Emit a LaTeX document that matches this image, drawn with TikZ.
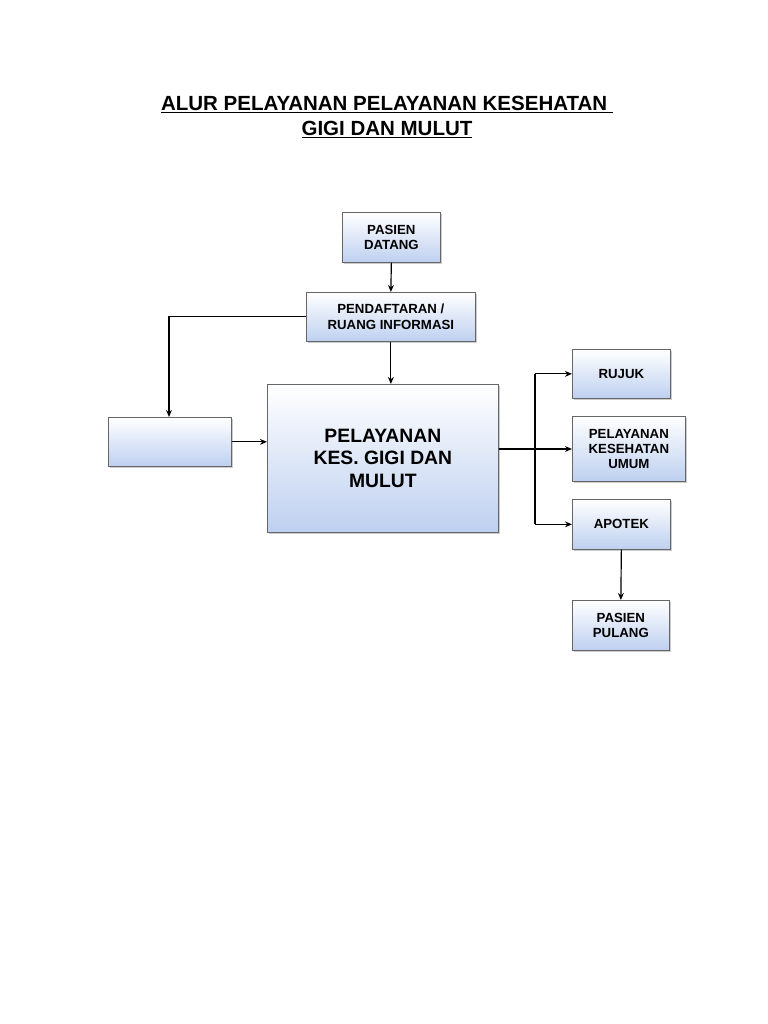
\documentclass[tikz,border=0pt]{standalone}
\usepackage{fontspec}
\setmainfont{Liberation Sans}
\usetikzlibrary{shadows,arrows.meta}
\definecolor{bfill}{RGB}{190,208,240}
\begin{document}
\begin{tikzpicture}[x=0.03cm,y=-0.03cm,
  box/.style={draw=black!60,line width=0.6pt,top color=white,bottom color=bfill,
    drop shadow={shadow xshift=1.5pt,shadow yshift=-1.5pt,opacity=0.4},
    font=\bfseries\fontsize{11.3}{13}\selectfont,align=center,anchor=north west,inner sep=0pt},
  arr/.style={-{Stealth[length=6pt,width=5pt]},line width=1pt},
  ln/.style={line width=1pt}]
\useasboundingbox (0,0) rectangle (768,1024);
\node[font=\bfseries\fontsize{17.5}{21}\selectfont,align=center] (t) at (387,117)
  {\underline{ALUR PELAYANAN PELAYANAN KESEHATAN\ }\\\underline{GIGI DAN MULUT}};
\node[box,minimum width=98*0.03cm,minimum height=50*0.03cm] (pd) at (342,212) {PASIEN\\DATANG};
\node[box,minimum width=169*0.03cm,minimum height=49*0.03cm] (pf) at (306,292) {PENDAFTARAN /\\RUANG INFORMASI};
\node[box,minimum width=123*0.03cm,minimum height=49*0.03cm] (lb) at (108,417) {};
\node[box,minimum width=231*0.03cm,minimum height=148*0.03cm,font=\bfseries\fontsize{16.5}{19.5}\selectfont] (m) at (267,384) {PELAYANAN\\KES. GIGI DAN\\MULUT};
\node[box,minimum width=98*0.03cm,minimum height=49*0.03cm] (rj) at (572,349) {RUJUK};
\node[box,minimum width=113*0.03cm,minimum height=65*0.03cm] (pu) at (572,416) {PELAYANAN\\KESEHATAN\\UMUM};
\node[box,minimum width=98*0.03cm,minimum height=50*0.03cm] (ap) at (572,499) {APOTEK};
\node[box,minimum width=97*0.03cm,minimum height=50*0.03cm] (pp) at (572,600) {PASIEN\\PULANG};
\coordinate (j) at (535,449);
\coordinate (c1) at (169,0);
\draw[arr] (pd.south) -- (pf.north);
\draw[arr] (pf.south) -- (pf.south |- m.north);
\draw[arr] (pf.west) -- (c1 |- pf.west) -- (c1 |- lb.north);
\draw[arr] (lb.east) -- (lb.east -| m.west);
\draw[ln] (m.east |- j) -- (j);
\draw[ln] (j |- rj.west) -- (j |- ap.west);
\draw[arr] (j |- rj.west) -- (rj.west);
\draw[arr] (j) -- (pu.west |- j);
\draw[arr] (j |- ap.west) -- (ap.west);
\draw[arr] (ap.south) -- (pp.north);
\end{tikzpicture}
\end{document}
